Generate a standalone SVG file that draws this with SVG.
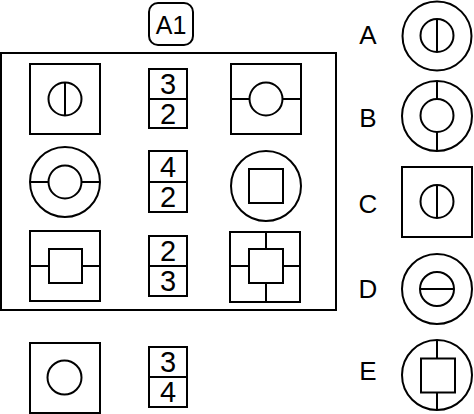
<svg xmlns="http://www.w3.org/2000/svg" width="474" height="414" viewBox="0 0 474 414">
<style>
.s{fill:none;stroke:#000;stroke-width:2}
.t{font-family:"Liberation Sans",Arial,sans-serif;fill:#000;text-anchor:middle}
.d{font-size:29px}
.l{font-size:26px}
</style>
<rect width="474" height="414" fill="#fff"/>
<g id="title">
<rect class="s" x="149" y="3" width="44" height="42" rx="9"/>
<text class="t" x="171" y="34" style="font-size:25px">A1</text>
</g>
<g id="frame"><rect class="s" x="1" y="53" width="335" height="257"/></g>
<g id="r1c1">
<rect class="s" x="30" y="64" width="70" height="70"/>
<circle class="s" cx="65" cy="99" r="16.5"/>
<line class="s" x1="65" y1="82.5" x2="65" y2="115.5"/>
</g>
<g id="r1n">
<rect class="s" x="149" y="69" width="38" height="59"/>
<line class="s" x1="149" y1="99" x2="187" y2="99"/>
<text class="t d" x="168" y="94">3</text>
<text class="t d" x="168" y="124">2</text>
</g>
<g id="r1c3">
<rect class="s" x="231" y="64" width="70" height="70"/>
<circle class="s" cx="266" cy="99" r="16.5"/>
<line class="s" x1="231" y1="99" x2="249.5" y2="99"/>
<line class="s" x1="282.5" y1="99" x2="301" y2="99"/>
</g>
<g id="r2c1">
<circle class="s" cx="65" cy="182" r="35"/>
<circle class="s" cx="65" cy="182" r="16.5"/>
<line class="s" x1="30" y1="182" x2="48.5" y2="182"/>
<line class="s" x1="81.5" y1="182" x2="100" y2="182"/>
</g>
<g id="r2n">
<rect class="s" x="149" y="151" width="38" height="61"/>
<line class="s" x1="149" y1="182" x2="187" y2="182"/>
<text class="t d" x="168" y="177">4</text>
<text class="t d" x="168" y="207">2</text>
</g>
<g id="r2c3">
<circle class="s" cx="266" cy="186" r="35"/>
<rect class="s" x="249" y="169" width="34" height="34"/>
</g>
<g id="r3c1">
<rect class="s" x="30" y="231" width="70" height="70"/>
<rect class="s" x="49" y="249" width="33" height="34"/>
<line class="s" x1="30" y1="266" x2="49" y2="266"/>
<line class="s" x1="82" y1="266" x2="100" y2="266"/>
</g>
<g id="r3n">
<rect class="s" x="149" y="236" width="38" height="60"/>
<line class="s" x1="149" y1="266" x2="187" y2="266"/>
<text class="t d" x="168" y="261">2</text>
<text class="t d" x="168" y="291">3</text>
</g>
<g id="r3c3">
<rect class="s" x="230" y="232" width="70" height="70"/>
<rect class="s" x="249" y="249" width="34" height="34"/>
<line class="s" x1="230" y1="266" x2="249" y2="266"/>
<line class="s" x1="283" y1="266" x2="300" y2="266"/>
<line class="s" x1="266" y1="232" x2="266" y2="249"/>
<line class="s" x1="266" y1="283" x2="266" y2="302"/>
</g>
<g id="q1">
<rect class="s" x="30" y="343" width="70" height="70"/>
<circle class="s" cx="64.5" cy="377.5" r="17"/>
</g>
<g id="qn">
<rect class="s" x="149" y="347" width="38" height="60"/>
<line class="s" x1="149" y1="377" x2="187" y2="377"/>
<text class="t d" x="168" y="372">3</text>
<text class="t d" x="168" y="402">4</text>
</g>
<g id="optA">
<text class="t l" x="368" y="44">A</text>
<circle class="s" cx="437" cy="36" r="34.5"/>
<circle class="s" cx="437" cy="35.5" r="16.5"/>
<line class="s" x1="437" y1="19" x2="437" y2="52"/>
</g>
<g id="optB">
<text class="t l" x="368" y="127">B</text>
<circle class="s" cx="437" cy="116" r="35"/>
<circle class="s" cx="437" cy="115.5" r="16.5"/>
<line class="s" x1="437" y1="81" x2="437" y2="99"/>
<line class="s" x1="437" y1="132" x2="437" y2="151"/>
</g>
<g id="optC">
<text class="t l" x="368" y="213">C</text>
<rect class="s" x="402" y="167" width="70" height="70"/>
<circle class="s" cx="437" cy="201.5" r="16.5"/>
<line class="s" x1="437" y1="185" x2="437" y2="218"/>
</g>
<g id="optD">
<text class="t l" x="368" y="298">D</text>
<circle class="s" cx="437" cy="289" r="35"/>
<circle class="s" cx="437" cy="289" r="17"/>
<line class="s" x1="420" y1="289" x2="454" y2="289"/>
</g>
<g id="optE">
<text class="t l" x="368" y="380">E</text>
<circle class="s" cx="437" cy="375" r="35"/>
<rect class="s" x="421" y="358.5" width="34" height="34"/>
<line class="s" x1="437" y1="340" x2="437" y2="358.5"/>
<line class="s" x1="437" y1="392.5" x2="437" y2="410"/>
</g>
</svg>
